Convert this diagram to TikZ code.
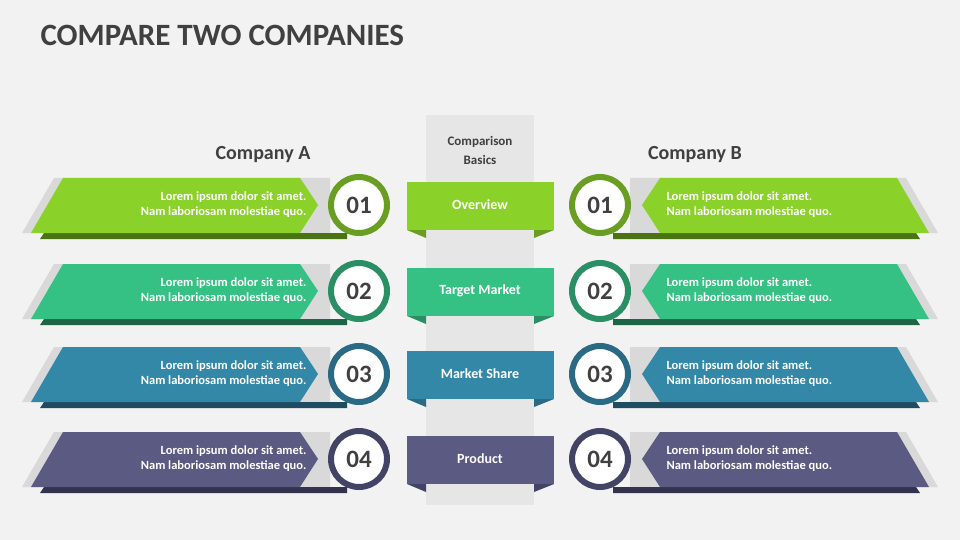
\documentclass[tikz,border=0pt]{standalone}
\usepackage{fontspec}
\setmainfont{Carlito}
\definecolor{bg}{HTML}{F2F2F2}
\definecolor{gband}{HTML}{D9D9D9}
\definecolor{cstrip}{HTML}{E6E6E6}
\definecolor{tx}{HTML}{404040}
\definecolor{cA}{HTML}{8AD12A}\definecolor{rA}{HTML}{6A9E22}\definecolor{sA}{HTML}{4A7414}
\definecolor{cB}{HTML}{36C184}\definecolor{rB}{HTML}{2A8F64}\definecolor{sB}{HTML}{1E6446}
\definecolor{cC}{HTML}{3388A8}\definecolor{rC}{HTML}{2A6A84}\definecolor{sC}{HTML}{1F4C60}
\definecolor{cD}{HTML}{5A5A82}\definecolor{rD}{HTML}{434366}\definecolor{sD}{HTML}{33334D}
\tikzset{
 body/.style={font=\bfseries\fontsize{12.5}{15}\selectfont, text=white},
 num/.style={circle, fill=white, minimum size=56pt, line width=6pt, font=\bfseries\fontsize{25}{28}\selectfont, text=tx},
 lab/.style={font=\bfseries\fontsize{14}{16}\selectfont, text=white},
 head/.style={font=\bfseries\fontsize{20}{24}\selectfont, text=tx}
}
\begin{document}
\begin{tikzpicture}[x=1pt,y=-1pt]
\fill[bg] (0,0) rectangle (960,540);
\useasboundingbox (0,0) rectangle (960,540);
\node[font=\bfseries\fontsize{31}{36}\selectfont, text=tx, anchor=west] (title) at (37,35) {COMPARE TWO COMPANIES};
\node[head] (ca) at (263,155) {Company A};
\node[head] (cb) at (695,155) {Company B};
\fill[cstrip] (426,115) rectangle (534,505);
\node[font=\bfseries\fontsize{13}{19}\selectfont, text=tx, align=center] (basics) at (480,150) {Comparison\\Basics};
\foreach \c/\col/\rc/\sc/\n/\lbl [count=\i] in {205/cA/rA/sA/01/Overview, 291/cB/rB/sB/02/Target Market, 374/cC/rC/sC/03/Market Share, 459/cD/rD/sD/04/Product/ Service}{
 % left
 \fill[gband] (54,\c-27) -- (330,\c-27) -- (330,\c+28) -- (22,\c+28) -- cycle;
 \fill[\sc] (44,\c+28) -- (347,\c+28) -- (347,\c+34) -- (40,\c+34) -- cycle;
 \fill[\col] (63,\c-27) -- (300,\c-27) -- (318,\c) -- (300,\c+28) -- (31,\c+28) -- cycle;
 \node[num, draw=\rc] (L\i) at (359,\c) {\n};
 \node[body, anchor=east, align=right] (LT\i) at (310,\c) {Lorem ipsum dolor sit amet.\\Nam laboriosam molestiae quo.};
 % right
 \fill[gband] (960-54,\c-27) -- (960-330,\c-27) -- (960-330,\c+28) -- (960-22,\c+28) -- cycle;
 \fill[\sc] (960-44,\c+28) -- (960-347,\c+28) -- (960-347,\c+34) -- (960-40,\c+34) -- cycle;
 \fill[\col] (960-63,\c-27) -- (960-300,\c-27) -- (960-318,\c) -- (960-300,\c+28) -- (960-31,\c+28) -- cycle;
 \node[num, draw=\rc] (R\i) at (600,\c) {\n};
 \node[body, anchor=west, align=left] (RT\i) at (663,\c) {Lorem ipsum dolor sit amet.\\Nam laboriosam molestiae quo.};
 % center
 \fill[\rc] (407,\c+25) -- (426,\c+25) -- (426,\c+33) -- cycle;
 \fill[\rc] (554,\c+25) -- (534,\c+25) -- (534,\c+33) -- cycle;
 \fill[\col] (407,\c-23) rectangle (554,\c+25);
 \node[lab] (M\i) at (480,\c) {\lbl};
}
\end{tikzpicture}
\end{document}
